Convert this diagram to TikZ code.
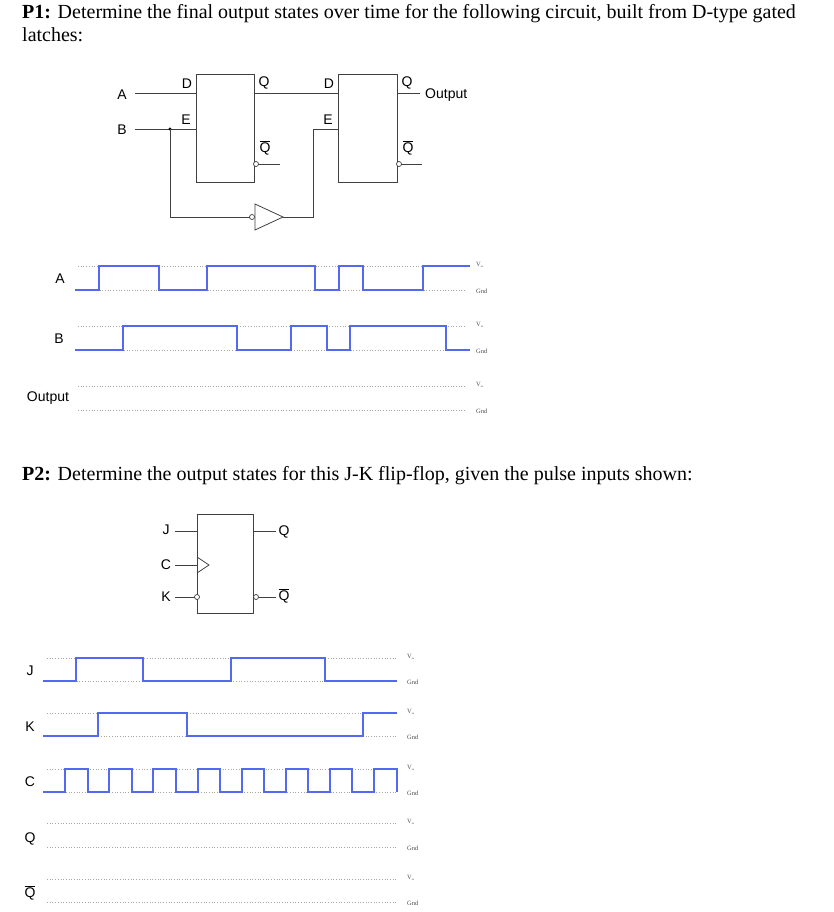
\documentclass[tikz,border=0pt]{standalone}
\usepackage{fontspec}
\setmainfont{Liberation Serif}
\newfontfamily\arial{Liberation Sans}
\begin{document}
\begin{tikzpicture}[x=1pt,y=-1pt,
  lab/.style={font=\arial\fontsize{14}{14}\selectfont,inner sep=0pt},
  tiny/.style={font=\fontsize{6.5}{6.5}\selectfont,text=black!70,inner sep=0pt,anchor=west},
  wire/.style={draw=black!75,line width=0.8pt},
  wave/.style={draw={rgb,255:red,85;green,105;blue,240},line width=1.2pt},
  grid/.style={draw=black!35,dotted,line width=0.7pt},
  bub/.style={circle,draw=black!75,fill=white,inner sep=0pt,minimum size=5pt,line width=0.7pt}]
\useasboundingbox (0,0) rectangle (834,912);
% titles
\node[anchor=west,font=\fontsize{20}{22}\selectfont,inner sep=0pt] (t1) at (22,14) {\textbf{P1:} Determine the final output states over time for the following circuit, built from D-type gated};
\node[anchor=west,font=\fontsize{20}{22}\selectfont,inner sep=0pt] (t1b) at (22,35) {latches:};
\node[anchor=west,font=\fontsize{20}{22}\selectfont,inner sep=0pt] (t2) at (22,476) {\textbf{P2:} Determine the output states for this J-K flip-flop, given the pulse inputs shown:};
% latches
\draw[wire] (196,74) rectangle (254,182);
\draw[wire] (338,74) rectangle (397,182);
\node[lab] (A) at (122,95) {A};
\node[lab] (B) at (122,130) {B};
\coordinate (dot) at (170,129);
\draw[wire] (135,93) -- (196,93);
\draw[wire] (135,129) -- (196,129);
\fill (dot) circle (1.6pt);
\node[lab] at (187,84) {D};
\node[lab] at (186,120) {E};
\node[lab] at (264,83) {Q};
\node[lab] at (265,148) {$\overline{\mbox{Q}}$};
\node[lab] at (329,84) {D};
\node[lab] at (328,120) {E};
\node[lab] at (407,83) {Q};
\node[lab] at (408,148) {$\overline{\mbox{Q}}$};
\draw[wire] (254,93) -- (338,93);
\draw[wire] (397,93) -- (420,93);
\node[lab,anchor=west] (out) at (425,95) {Output};
\draw[wire] (258,164) -- (280,164);
\node[bub] at (256,164) {};
\draw[wire] (401,164) -- (422,164);
\node[bub] at (399,164) {};
% inverter
\draw[wire] (dot) -- (170,217) -- (250,217);
\draw[wire] (255,204) -- (283,217) -- (255,230) -- cycle;
\node[bub] at (252,217) {};
\draw[wire] (283,217) -- (313,217) -- (313,129) -- (338,129);
% top waveforms
\foreach \h/\l in {266/290,326/350,386/410}{
  \draw[grid] (78,\h) -- (465,\h);
  \draw[grid] (78,\l) -- (465,\l);
  \node[tiny] at (476,\h-1) {V\textsubscript{\fontsize{3}{3}\selectfont ss}};
  \node[tiny] at (476,\l+1) {Gnd};
}
\node[lab] (wA) at (60,279) {A};
\node[lab] (wB) at (59,339) {B};
\node[lab] (wO) at (48,398) {Output};
\draw[wave] (75,290) -- (99,290) -- (99,266) -- (159,266) -- (159,290) -- (207,290) -- (207,266) -- (315,266) -- (315,290) -- (339,290) -- (339,266) -- (363,266) -- (363,290) -- (423,290) -- (423,266) -- (470,266);
\draw[wave] (75,350) -- (123,350) -- (123,326) -- (237,326) -- (237,350) -- (291,350) -- (291,326) -- (327,326) -- (327,350) -- (350,350) -- (350,326) -- (446,326) -- (446,350) -- (470,350);
% JK flip flop
\draw[wire] (197,514) rectangle (253,613);
\node[lab] (J) at (166,530) {J};
\node[lab] (C) at (166,565) {C};
\node[lab] (K) at (166,597) {K};
\draw[wire] (175,531) -- (197,531);
\draw[wire] (175,565) -- (197,565);
\draw[wire] (197,557) -- (209,565) -- (197,573);
\draw[wire] (175,597) -- (195,597);
\node[bub] at (197,597) {};
\draw[wire] (253,531) -- (276,531);
\node[lab] (Q) at (284,532) {Q};
\draw[wire] (258,597) -- (276,597);
\node[bub] at (256,597) {};
\node[lab] (Qb) at (284,596) {$\overline{\mbox{Q}}$};
% bottom waveforms
\foreach \h/\l in {658/681,713/736,769/792,823/847,879/902}{
  \draw[grid] (47,\h) -- (397,\h);
  \draw[grid] (47,\l) -- (397,\l);
  \node[tiny] at (407,\h-1) {V\textsubscript{\fontsize{3}{3}\selectfont ss}};
  \node[tiny] at (407,\l+1) {Gnd};
}
\node[lab] (wJ) at (30,671) {J};
\node[lab] (wK) at (30,727) {K};
\node[lab] (wC) at (30,782) {C};
\node[lab] (wQ) at (30,839) {Q};
\node[lab] (wQb) at (30,893) {$\overline{\mbox{Q}}$};
\draw[wave] (43,681) -- (76,681) -- (76,658) -- (143,658) -- (143,681) -- (231,681) -- (231,658) -- (325,658) -- (325,681) -- (397,681);
\draw[wave] (43,736) -- (98,736) -- (98,713) -- (187,713) -- (187,736) -- (363,736) -- (363,713) -- (397,713);
\draw[wave] (43,792) -- (65,792) -- (65,769) -- (88,769) -- (88,792) -- (109,792) -- (109,769) -- (132,769) -- (132,792) -- (153,792) -- (153,769) -- (176,769) -- (176,792) -- (198,792) -- (198,769) -- (220,769) -- (220,792) -- (242,792) -- (242,769) -- (264,769) -- (264,792) -- (286,792) -- (286,769) -- (308,769) -- (308,792) -- (330,792) -- (330,769) -- (352,769) -- (352,792) -- (374,792) -- (374,769) -- (397,769) -- (397,792);
\end{tikzpicture}
\end{document}
